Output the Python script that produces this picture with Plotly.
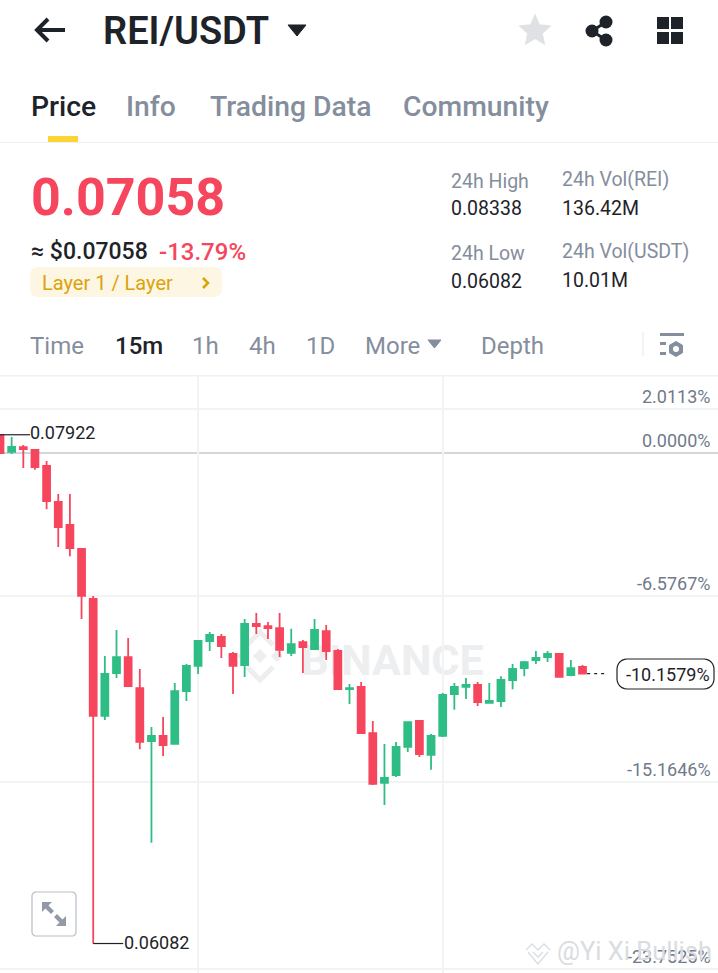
import math
import plotly.graph_objects as go

W, H = 718, 973
FONT = "Roboto"
RED, GREEN = "#F6465D", "#2EBD85"
DARK, GRAY = "#1E2329", "#848E9C"

# ---- data (prices) ----
candle_index = list(range(51))
opens = [.07921,.07860,.07877,.07867,.07809,.07679,.07596,.07509,.07328,.06905,.07060,.07118,.07006,.06814,.06833,.06804,
         .06995,.07086,.07176,.07191,.07129,.07089,.07238,.07230,.07223,.07133,.07172,.07147,.07212,.07140,.07002,.07010,
         .06843,.06663,.06691,.06793,.06887,.06764,.06833,.06984,.07010,.07017,.06952,.06959,.07035,.07078,.07107,.07118,
         .07129,.07053,.07082]
highs = [.07922,.07914,.07885,.07867,.07827,.07708,.07708,.07512,.07339,.07122,.07216,.07187,.07075,.06865,.06901,.07024,
         .07093,.07176,.07209,.07201,.07136,.07256,.07277,.07245,.07277,.07220,.07180,.07256,.07234,.07147,.07021,.07028,
         .06887,.06804,.06811,.06883,.06887,.06840,.06988,.07024,.07042,.07028,.07024,.07049,.07093,.07104,.07140,.07140,
         .07129,.07107,.07089]
lows = [.07856,.07852,.07802,.07795,.07653,.07516,.07483,.07256,.06082,.06890,.07042,.07010,.06785,.06446,.06760,.06804,
        .06959,.07057,.07140,.07115,.06984,.07046,.07201,.07183,.07118,.07122,.07060,.07144,.07107,.07002,.06948,.06840,
        .06655,.06583,.06684,.06775,.06757,.06710,.06829,.06927,.06966,.06941,.06952,.06937,.07002,.07049,.07093,.07100,
        .07046,.07049,.07057]
closes = [.07856,.07878,.07870,.07805,.07682,.07588,.07512,.07339,.06905,.07057,.07118,.07013,.06811,.06833,.06800,.06995,
          .07086,.07176,.07198,.07158,.07086,.07238,.07230,.07223,.07144,.07165,.07154,.07216,.07140,.07002,.07006,.06843,
          .06659,.06681,.06793,.06883,.06767,.06833,.06981,.07010,.07017,.06955,.06959,.07035,.07075,.07100,.07115,.07129,
          .07046,.07078,.07058]
reference_price = 0.07856
pct_levels = [2.0113, 0.0, -6.5767, -15.1646, -23.7525]
pct_labels = ["2.0113%", "0.0000%", "-6.5767%", "-15.1646%", "-23.7525%"]
current_label = "-10.1579%"
grid_candles = [17, 38]
high_label, low_label = "0.07922", "0.06082"
tabs = ["Price", "Info", "Trading Data", "Community"]
intervals = ["Time", "15m", "1h", "4h", "1D", "More", "Depth"]

# ---- helpers: screen pixel -> paper ----
fx = lambda x: x / W
fy = lambda y: 1 - y / H
annos, shapes = [], []


def text(x, y, s, size, color=DARK, weight=400, anchor="left", yanchor="middle", family=FONT, opacity=None):
    a = dict(text=s, x=fx(x), y=fy(y), xref="paper", yref="paper", xanchor=anchor, yanchor=yanchor,
             showarrow=False, borderpad=0, font=dict(size=size, color=color, family=family, weight=weight))
    if opacity is not None:
        a["opacity"] = opacity
    annos.append(a)


def path(points, fill=None, line=None, width=0, close=True, layer="above", cap=None):
    d = "M " + " L ".join(f"{fx(x):.5f},{fy(y):.5f}" for x, y in points) + (" Z" if close else "")
    shapes.append(dict(type="path", xref="paper", yref="paper", path=d, layer=layer,
                       fillcolor=fill or "rgba(0,0,0,0)",
                       line=dict(color=line or "rgba(0,0,0,0)", width=width)))


def rect(x0, y0, x1, y1, fill=None, line=None, width=0, layer="above"):
    shapes.append(dict(type="rect", xref="paper", yref="paper", x0=fx(x0), x1=fx(x1), y0=fy(y0), y1=fy(y1),
                       layer=layer, fillcolor=fill or "rgba(0,0,0,0)",
                       line=dict(color=line or "rgba(0,0,0,0)", width=width)))


def rounded(x0, y0, x1, y1, r, **kw):
    pts = []
    for cx, cy, a0 in [(x1 - r, y0 + r, -90), (x1 - r, y1 - r, 0), (x0 + r, y1 - r, 90), (x0 + r, y0 + r, 180)]:
        for k in range(7):
            t = math.radians(a0 + 15 * k)
            pts.append((cx + r * math.cos(t), cy + r * math.sin(t)))
    path(pts, **kw)


def circle(cx, cy, r, fill):
    shapes.append(dict(type="circle", xref="paper", yref="paper", x0=fx(cx - r), x1=fx(cx + r),
                       y0=fy(cy - r), y1=fy(cy + r), fillcolor=fill, line=dict(width=0)))


# ---- header ----
path([(37, 30), (65, 30)], line=DARK, width=4, close=False)
path([(48, 19), (37, 30), (48, 41)], line=DARK, width=4, close=False)
text(102, 31, "REI/USDT", 38, DARK, 600)
path([(288, 25), (306, 25), (297, 36)], fill=DARK, line=DARK, width=1)
star = []
for k in range(10):
    r = 15 if k % 2 == 0 else 7
    t = math.radians(-90 + 36 * k)
    star.append((535 + r * math.cos(t), 31 + r * math.sin(t)))
path(star, fill="#DFE1E5", line="#DFE1E5", width=2)
path([(606, 22), (592, 31), (606, 40)], line=DARK, width=3, close=False)
for cx, cy in [(606, 22), (592, 31), (606, 40)]:
    circle(cx, cy, 6.5, DARK)
for x0, y0 in [(657, 17), (671, 17), (657, 32), (671, 32)]:
    rect(x0, y0, x0 + 12, y0 + 12, fill=DARK)

for s, x in zip(tabs, [29.5, 125, 209, 402]):
    text(x, 106.5, s, 28.3, DARK if s == "Price" else GRAY, 500)
rect(48, 136, 78, 142, fill="#FCD535")
rect(0, 142, W, 143, fill="#EEF0F2")

# ---- price block ----
text(30, 197, "0.07058", 52, RED, 700)
text(30, 252, "≈ $0.07058", 23, DARK, 500)
text(158, 252, "-13.79%", 24, RED, 500)
rounded(30, 267, 222, 297, 8, fill="#FDF6E3")
text(41, 283, "Layer 1 / Layer", 20, "#DBA30A")
path([(203, 278), (208, 283), (203, 288)], line="#DBA30A", width=2.5, close=False)
text(450, 181, "24h High", 19.5, GRAY)
text(450, 209, "0.08338", 19.5, DARK)
text(561, 179, "24h Vol(REI)", 19.5, GRAY)
text(561, 208, "136.42M", 19.5, DARK)
text(450, 253, "24h Low", 19.5, GRAY)
text(450, 281, "0.06082", 19.5, DARK)
text(561, 252, "24h Vol(USDT)", 19.5, GRAY)
text(561, 280, "10.01M", 19.5, DARK)

# ---- interval bar ----
for s, x in zip(intervals, [29, 114, 191, 248, 305, 364, 480]):
    text(x, 346, s, 24, DARK if s == "15m" else GRAY, 500 if s == "15m" else 400)
path([(428, 340), (441, 340), (434.5, 348)], fill=GRAY, line=GRAY, width=1)
rect(642.5, 332, 643.5, 356, fill="#E6E8EA")
rect(660, 333, 684, 336, fill=GRAY)
rect(660, 342, 666, 345, fill=GRAY)
rect(660, 352, 666, 355, fill=GRAY)
hexa = [(676 + 7.5 * math.cos(math.radians(60 * k + 30)), 349 + 7.5 * math.sin(math.radians(60 * k + 30))) for k in range(6)]
path(hexa, fill=GRAY, line=GRAY, width=1)
circle(676, 349, 3, "white")
rect(0, 375, W, 376.5, fill="#F1F2F3")

# ---- chart ----
X_PER_PX = 1 / 11.65
PRICE_PER_PX = 3.6166e-5
xr = [0, W * X_PER_PX]
yr = [reference_price - (973 - 453) * PRICE_PER_PX, reference_price + (453 - 376) * PRICE_PER_PX]
level_prices = [reference_price * (1 + p / 100) for p in pct_levels]
grid_prices = [p for p, lv in zip(level_prices, pct_levels) if lv != 0.0]

# watermark, under the candles
shapes.append(dict(type="rect", xref="paper", yref="paper", x0=fx(290), x1=fx(495), y0=fy(677), y1=fy(637),
                   layer="below", fillcolor="rgba(0,0,0,0)", line=dict(width=0),
                   label=dict(text="BINANCE", textposition="middle center",
                              font=dict(size=43, color="#EDEEF0", family=FONT, weight=700))))
WM = "#EDEEF0"
path([(247, 645), (260, 632), (273, 645)], line=WM, width=5, close=False, layer="below")
path([(247, 667), (260, 680), (273, 667)], line=WM, width=5, close=False, layer="below")
path([(260, 649), (267, 656), (260, 663), (253, 656)], fill=WM, layer="below")
path([(243, 650), (249, 656), (243, 662), (237, 656)], fill=WM, layer="below")
path([(277, 650), (283, 656), (277, 662), (271, 656)], fill=WM, layer="below")

# zero line
shapes.append(dict(type="line", xref="paper", yref="y", x0=0, x1=1, y0=level_prices[1], y1=level_prices[1],
                   layer="below", line=dict(color="#C4C8CE", width=1.5)))

fig = go.Figure(go.Candlestick(
    x=candle_index, open=opens, high=highs, low=lows, close=closes,
    increasing=dict(line=dict(color=GREEN, width=1.8), fillcolor=GREEN),
    decreasing=dict(line=dict(color=RED, width=1.8), fillcolor=RED),
    whiskerwidth=0, showlegend=False, hoverinfo="skip"))

# level labels
for price, label in zip(level_prices, pct_labels):
    annos.append(dict(text=label, xref="paper", yref="y", x=fx(711.5), y=price, xanchor="right", yanchor="bottom",
                      yshift=1, showarrow=False, borderpad=0, font=dict(size=18, color="#707A8A", family=FONT)))

# high / low leaders
i_high = highs.index(max(highs))
i_low = lows.index(min(lows))
shapes.append(dict(type="line", xref="x", yref="y", x0=i_high, x1=i_high + 30 * X_PER_PX, y0=highs[i_high],
                   y1=highs[i_high], line=dict(color=DARK, width=1.2)))
shapes.append(dict(type="line", xref="x", yref="y", x0=i_low, x1=i_low + 30 * X_PER_PX, y0=lows[i_low],
                   y1=lows[i_low], line=dict(color=DARK, width=1.2)))
annos.append(dict(text=high_label, xref="x", yref="y", x=i_high + 30 * X_PER_PX, y=highs[i_high], xanchor="left",
                  yanchor="middle", showarrow=False, borderpad=0, xshift=-1, yshift=2,
                  font=dict(size=18, color=DARK, family=FONT)))
annos.append(dict(text=low_label, xref="x", yref="y", x=i_low + 30 * X_PER_PX, y=lows[i_low], xanchor="left",
                  yanchor="middle", showarrow=False, borderpad=0, xshift=0, yshift=1,
                  font=dict(size=18, color=DARK, family=FONT)))

# current price
shapes.append(dict(type="line", xref="x", yref="y", x0=candle_index[-1] + 0.4, x1=candle_index[-1] + 2.2,
                   y0=closes[-1], y1=closes[-1], line=dict(color=DARK, width=1.2, dash="3px,4px")))
rounded(617, 659, 714, 689, 10, fill="white", line=DARK, width=1.2)
text(667.5, 674.5, current_label, 18, DARK, anchor="center")

# expand button
rounded(32, 892, 76, 936, 4, fill="white", line="#B7BDC6", width=1.2)
path([(42, 902), (52, 902), (48.5, 905.5), (54, 911), (51, 914), (45.5, 908.5), (42, 912)], fill="#929AA5")
path([(66, 926), (56, 926), (59.5, 922.5), (54, 917), (57, 914), (62.5, 919.5), (66, 916)], fill="#929AA5")

# source watermark
WM2 = "#D9DCE0"
path([(526, 950), (532, 944), (538, 950), (544, 944), (550, 950)], line=WM2, width=1.3, close=False)
path([(528, 952), (538, 964), (548, 952)], line=WM2, width=1.3, close=False)
path([(533, 952), (538, 957), (543, 952)], line=WM2, width=1.3, close=False)
text(556, 951, "@Yi Xi Bullish", 25.5, WM2)

fig.update_layout(
    width=W, height=H, margin=dict(l=0, r=0, t=0, b=0), paper_bgcolor="white", plot_bgcolor="white",
    boxgap=0.15, showlegend=False, font=dict(family=FONT),
    xaxis=dict(range=xr, domain=[0, 1], rangeslider=dict(visible=False), tickmode="array", tickvals=grid_candles,
               showticklabels=False, ticks="", showgrid=True, gridcolor="#F2F3F4", gridwidth=1.5, zeroline=False,
               showline=False, fixedrange=True),
    yaxis=dict(range=yr, domain=[0, (973 - 376) / 973], tickmode="array", tickvals=grid_prices,
               showticklabels=False, ticks="", showgrid=True, gridcolor="#F2F3F4", gridwidth=1.5, zeroline=False,
               showline=False, fixedrange=True),
    shapes=shapes, annotations=annos)

fig.write_html("out.html", config=dict(displayModeBar=False),
               post_script="document.body.style.margin='0';document.body.style.overflow='hidden';")
